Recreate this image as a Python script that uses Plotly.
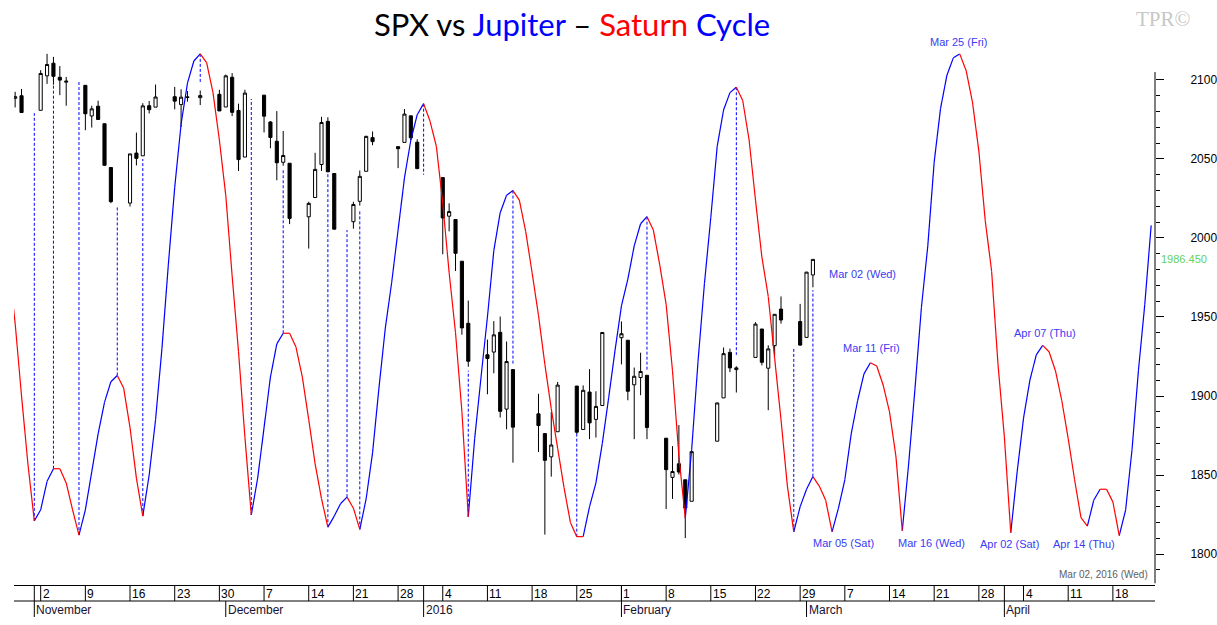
import plotly.graph_objects as go
import pandas as pd

# ---------------- data ----------------
candle_dates = [
    "2015-10-29", "2015-10-30",
    "2015-11-02", "2015-11-03", "2015-11-04", "2015-11-05", "2015-11-06",
    "2015-11-09", "2015-11-10", "2015-11-11", "2015-11-12", "2015-11-13",
    "2015-11-16", "2015-11-17", "2015-11-18", "2015-11-19", "2015-11-20",
    "2015-11-23", "2015-11-24", "2015-11-25", "2015-11-27",
    "2015-11-30", "2015-12-01", "2015-12-02", "2015-12-03", "2015-12-04",
    "2015-12-07", "2015-12-08", "2015-12-09", "2015-12-10", "2015-12-11",
    "2015-12-14", "2015-12-15", "2015-12-16", "2015-12-17", "2015-12-18",
    "2015-12-21", "2015-12-22", "2015-12-23", "2015-12-24",
    "2015-12-28", "2015-12-29", "2015-12-30", "2015-12-31",
    "2016-01-04", "2016-01-05", "2016-01-06", "2016-01-07", "2016-01-08",
    "2016-01-11", "2016-01-12", "2016-01-13", "2016-01-14", "2016-01-15",
    "2016-01-19", "2016-01-20", "2016-01-21", "2016-01-22",
    "2016-01-25", "2016-01-26", "2016-01-27", "2016-01-28", "2016-01-29",
    "2016-02-01", "2016-02-02", "2016-02-03", "2016-02-04", "2016-02-05",
    "2016-02-08", "2016-02-09", "2016-02-10", "2016-02-11", "2016-02-12",
    "2016-02-16", "2016-02-17", "2016-02-18", "2016-02-19",
    "2016-02-22", "2016-02-23", "2016-02-24", "2016-02-25", "2016-02-26",
    "2016-02-29", "2016-03-01", "2016-03-02",
]
spx_open = [
    2088.4, 2090.0,
    2080.8, 2102.6, 2110.6, 2101.7, 2098.6,
    2096.6, 2077.2, 2083.4, 2072.3, 2044.6,
    2022.1, 2053.7, 2052.0, 2083.7, 2082.8,
    2089.4, 2084.4, 2089.3, 2088.8,
    2090.9, 2082.9, 2101.7, 2080.7, 2051.2,
    2090.4, 2073.4, 2061.2, 2047.9, 2047.3,
    2013.4, 2025.6, 2046.5, 2073.8, 2040.8,
    2010.3, 2023.2, 2042.2, 2063.5,
    2057.8, 2060.5, 2077.3, 2060.6,
    2038.2, 2013.8, 2011.7, 1985.3, 1946.0,
    1926.1, 1927.8, 1940.3, 1891.7, 1916.7,
    1888.7, 1876.2, 1861.5, 1877.4,
    1906.3, 1878.8, 1902.5, 1885.2, 1894.0,
    1936.9, 1935.3, 1907.1, 1911.7, 1913.1,
    1873.3, 1848.5, 1857.1, 1847.0, 1833.4,
    1871.4, 1898.8, 1927.6, 1916.7,
    1924.4, 1942.4, 1917.6, 1931.9, 1955.0,
    1947.1, 1937.1, 1976.6,
]
spx_high = [
    2092.5, 2094.3,
    2106.2, 2116.5, 2114.6, 2108.8, 2101.9,
    2096.6, 2083.7, 2086.9, 2072.3, 2044.6,
    2053.2, 2066.7, 2085.3, 2086.7, 2097.1,
    2095.6, 2094.1, 2093.0, 2093.3,
    2093.8, 2103.4, 2104.3, 2085.0, 2093.8,
    2090.4, 2073.9, 2080.3, 2067.7, 2047.3,
    2022.9, 2053.9, 2076.7, 2076.4, 2040.8,
    2022.9, 2042.7, 2064.7, 2067.4,
    2057.8, 2081.6, 2077.3, 2062.5,
    2038.2, 2021.9, 2011.7, 1985.3, 1960.4,
    1935.7, 1947.4, 1950.3, 1934.5, 1916.7,
    1901.4, 1876.2, 1889.9, 1908.9,
    1906.3, 1906.7, 1917.0, 1903.0, 1940.2,
    1947.2, 1935.3, 1918.0, 1927.4, 1913.1,
    1873.3, 1868.3, 1881.6, 1847.0, 1864.8,
    1895.8, 1930.7, 1930.0, 1918.8,
    1946.7, 1942.4, 1932.1, 1951.8, 1963.0,
    1958.3, 1978.4, 1986.5,
]
spx_low = [
    2082.6, 2079.3,
    2080.8, 2097.5, 2097.0, 2090.4, 2083.7,
    2068.2, 2069.9, 2074.9, 2045.7, 2022.0,
    2019.9, 2045.9, 2052.0, 2078.8, 2082.8,
    2081.4, 2070.3, 2086.3, 2084.1,
    2080.4, 2082.9, 2077.1, 2042.4, 2051.2,
    2066.8, 2056.8, 2036.5, 2045.7, 2008.8,
    1993.3, 2025.6, 2042.4, 2041.7, 2005.3,
    2005.9, 2020.5, 2042.2, 2058.7,
    2044.2, 2060.5, 2062.0, 2043.6,
    1989.7, 2004.2, 1979.1, 1938.8, 1918.5,
    1901.1, 1914.4, 1886.4, 1878.9, 1857.8,
    1864.6, 1812.3, 1849.0, 1877.4,
    1876.0, 1878.8, 1872.7, 1873.7, 1894.0,
    1920.0, 1897.3, 1872.7, 1900.5, 1872.7,
    1828.5, 1834.9, 1850.3, 1810.1, 1833.4,
    1871.4, 1898.8, 1915.1, 1902.2,
    1924.4, 1919.4, 1891.0, 1925.4, 1945.8,
    1931.8, 1937.1, 1968.8,
]
spx_close = [
    2089.4, 2079.4,
    2104.1, 2109.8, 2102.3, 2099.9, 2099.2,
    2078.6, 2081.7, 2075.0, 2046.0, 2023.0,
    2053.2, 2050.4, 2083.6, 2081.2, 2089.2,
    2086.6, 2089.1, 2088.9, 2090.1,
    2080.4, 2102.6, 2079.5, 2049.6, 2091.7,
    2077.1, 2063.6, 2047.6, 2052.2, 2012.4,
    2021.9, 2043.4, 2073.1, 2041.9, 2005.6,
    2021.2, 2039.0, 2064.3, 2061.0,
    2056.5, 2078.4, 2063.4, 2043.9,
    2012.7, 2016.7, 1990.3, 1943.1, 1922.0,
    1923.7, 1938.7, 1890.3, 1921.8, 1880.3,
    1881.3, 1859.3, 1869.0, 1906.9,
    1877.1, 1903.6, 1883.0, 1893.4, 1940.2,
    1939.4, 1903.0, 1912.5, 1915.5, 1880.1,
    1853.4, 1852.2, 1851.9, 1829.1, 1864.8,
    1895.6, 1926.8, 1917.8, 1917.8,
    1945.5, 1921.3, 1929.8, 1951.7, 1948.1,
    1932.2, 1978.4, 1986.45,
]

# Jupiter-Saturn cycle, one value per calendar day starting 2015-10-28
cycle_start = "2015-10-28"
cycle_values = [
    1983, 1946, 1900, 1857, 1821, 1828, 1846, 1854, 1854, 1845,
    1828, 1812, 1828, 1852, 1876, 1896, 1909, 1913, 1905, 1880,
    1848, 1824, 1850, 1885, 1930, 1983, 2032, 2072, 2098, 2112,
    2116.5, 2111, 2092, 2062, 2027, 1976, 1928, 1874, 1824.7, 1848,
    1880, 1912, 1933, 1939.7, 1939.7, 1931, 1912, 1885, 1857, 1835,
    1817, 1824, 1832, 1836, 1829, 1815.6, 1835, 1864, 1905, 1943,
    1972, 2005, 2038, 2062, 2078, 2085, 2074, 2058, 2022, 1978,
    1940, 1890, 1823.6, 1873, 1912, 1950, 1992, 2016, 2027, 2030,
    2024, 2004, 1978, 1951, 1920, 1892, 1867, 1842, 1820, 1811,
    1811, 1830, 1845, 1870, 1899, 1929, 1957, 1974, 1995, 2009,
    2013.5, 2005, 1983, 1958, 1916, 1862, 1822.6, 1866, 1922, 1971,
    2013, 2058, 2081, 2092, 2095.4, 2087, 2062, 2024, 1988, 1963,
    1924, 1885, 1843, 1814, 1830, 1841, 1849, 1843, 1834, 1814,
    1829, 1847, 1876, 1897, 1914, 1921, 1919, 1907, 1890, 1862,
    1814.7, 1857, 1905, 1956, 1995, 2048, 2082, 2103, 2114, 2116.5,
    2106, 2086, 2055, 2011, 1979, 1920, 1874, 1813.5, 1852, 1886,
    1910, 1926, 1932, 1928, 1916, 1897, 1873, 1847, 1823, 1817.7,
    1834, 1841, 1841, 1833, 1811.6, 1828, 1866, 1916, 1958, 2008,
]

# turning-point markers: date and the price level the dashed line reaches
marker_dates = [
    "2015-11-01", "2015-11-04", "2015-11-08", "2015-11-14", "2015-11-18",
    "2015-11-27", "2015-12-05", "2015-12-10", "2015-12-17", "2015-12-20",
    "2015-12-22", "2016-01-01", "2016-01-08", "2016-01-15", "2016-01-25",
    "2016-02-05", "2016-02-19", "2016-02-28", "2016-03-02",
]
marker_levels = [
    2079, 2097, 2100, 2020, 2050,
    2098, 2088, 2044, 2042, 2005,
    2017, 2040, 1916, 1920, 1877,
    1916, 1926, 1930, 1967,
]

# future turning-point labels
label_dates = ["2016-03-05", "2016-03-11", "2016-03-16", "2016-03-25",
               "2016-04-02", "2016-04-07", "2016-04-14"]
label_texts = ["Mar 05 (Sat)", "Mar 11 (Fri)", "Mar 16 (Wed)", "Mar 25 (Fri)",
               "Apr 02 (Sat)", "Apr 07 (Thu)", "Apr 14 (Thu)"]

week_ticks = list(pd.date_range("2015-11-02", "2016-04-18", freq="7D"))
month_starts = ["2015-11-01", "2015-12-01", "2016-01-01", "2016-02-01",
                "2016-03-01", "2016-04-01"]
month_names = ["November", "December", "2016", "February", "March", "April"]

y_major = [1800, 1850, 1900, 1950, 2000, 2050, 2100]

# ---------------- figure ----------------
FONT = "Liberation Sans, Arial, sans-serif"
BLUE = "#0000ff"
RED = "#ff0000"
LABEL_BLUE = "#3b3bf2"

cycle_dates = pd.date_range(cycle_start, periods=len(cycle_values), freq="D")
cyc = dict(zip(cycle_dates, cycle_values))

up_x, up_y, dn_x, dn_y = [], [], [], []
for i in range(len(cycle_values) - 1):
    a, b = cycle_values[i], cycle_values[i + 1]
    if b > a:
        up_x += [cycle_dates[i], cycle_dates[i + 1], None]
        up_y += [a, b, None]
    else:
        dn_x += [cycle_dates[i], cycle_dates[i + 1], None]
        dn_y += [a, b, None]

fig = go.Figure()

fig.add_trace(go.Candlestick(
    x=candle_dates, open=spx_open, high=spx_high, low=spx_low, close=spx_close,
    increasing=dict(line=dict(color="black", width=1), fillcolor="white"),
    decreasing=dict(line=dict(color="black", width=1), fillcolor="black"),
    whiskerwidth=0, showlegend=False, hoverinfo="skip",
))

mx, my = [], []
for d, lvl in zip(marker_dates, marker_levels):
    ts = pd.Timestamp(d)
    mx += [ts, ts, None]
    my += [cyc[ts], lvl, None]
fig.add_trace(go.Scatter(x=mx, y=my, mode="lines",
                         line=dict(color=BLUE, width=1, dash="3px,2px"),
                         showlegend=False, hoverinfo="skip"))

fig.add_trace(go.Scatter(x=up_x, y=up_y, mode="lines",
                         line=dict(color=BLUE, width=1.2),
                         showlegend=False, hoverinfo="skip"))
fig.add_trace(go.Scatter(x=dn_x, y=dn_y, mode="lines",
                         line=dict(color=RED, width=1.2),
                         showlegend=False, hoverinfo="skip"))

PLOT_H = 585.0


def py(px):
    return (PLOT_H - px) / PLOT_H


shapes = []
annotations = []

# y axis line
shapes.append(dict(type="line", xref="paper", yref="y", x0=1, x1=1,
                   y0=1781.5, y1=2105, line=dict(color="black", width=1)))
# x axis frame lines
for ypx in (585.5, 601):
    shapes.append(dict(type="line", xref="paper", yref="paper", x0=0, x1=1,
                       y0=py(ypx), y1=py(ypx), line=dict(color="black", width=1)))
# week ticks and day numbers
for t in week_ticks:
    shapes.append(dict(type="line", xref="x", yref="paper", x0=t, x1=t,
                       y0=py(586), y1=py(601), line=dict(color="black", width=1)))
    annotations.append(dict(x=t, y=py(593.5), xref="x", yref="paper",
                            text=str(t.day), showarrow=False, xanchor="left",
                            yanchor="middle", xshift=0,
                            font=dict(family=FONT, size=12, color="black")))
# month boundaries and names
for m, name in zip(month_starts, month_names):
    mt = pd.Timestamp(m)
    top = 601
    if not any(0 < (mt - t).days < 2 for t in week_ticks):
        top = 586
    shapes.append(dict(type="line", xref="x", yref="paper", x0=mt, x1=mt,
                       y0=py(top), y1=py(617), line=dict(color="black", width=1)))
    annotations.append(dict(x=mt, y=py(609.5), xref="x", yref="paper",
                            text=name, showarrow=False, xanchor="left",
                            yanchor="middle",
                            font=dict(family=FONT, size=12, color="#1a1030")))

# future pivot labels (pixel offsets from the pivot point)
label_offsets = [(11, -11), (1, 15), (29, -12), (-1, 12), (-1, -11), (2, 12), (-3, -18)]
for d, txt, (dx, dy) in zip(label_dates, label_texts, label_offsets):
    ts = pd.Timestamp(d)
    annotations.append(dict(x=ts, y=cyc[ts], xref="x", yref="y", text=txt,
                            showarrow=False, xanchor="center", yanchor="middle",
                            xshift=dx, yshift=dy,
                            font=dict(family=FONT, size=11, color=LABEL_BLUE)))

# last candle label
annotations.append(dict(x=pd.Timestamp(candle_dates[-1]), y=spx_close[-1],
                        xref="x", yref="y", text="Mar 02 (Wed)", showarrow=False,
                        xanchor="left", yanchor="middle", xshift=14, yshift=-15,
                        font=dict(family=FONT, size=11, color=LABEL_BLUE)))
# last price on axis
annotations.append(dict(x=1, y=spx_close[-1], xref="paper", yref="y",
                        text=f"{spx_close[-1]:.3f}", showarrow=False,
                        xanchor="left", yanchor="middle", xshift=4,
                        font=dict(family=FONT, size=11, color="#5fd35f")))
# current date note
annotations.append(dict(x=1, y=py(574), xref="paper", yref="paper",
                        text="Mar 02, 2016 (Wed)", showarrow=False,
                        xanchor="right", yanchor="middle", xshift=-5,
                        font=dict(family=FONT, size=10, color="#606060")))
# title
annotations.append(dict(
    x=(572.5 - 14) / 1143, y=py(24), xref="paper", yref="paper",
    text=("SPX vs <span style='color:#0000ff'>Jupiter</span> \u2013 "
          "<span style='color:#ff0000'>Saturn</span> "
          "<span style='color:#0000ff'>Cycle</span>"),
    showarrow=False, xanchor="center", yanchor="middle",
    font=dict(family="Lato, Open Sans, sans-serif", size=31, color="black")))
# watermark
annotations.append(dict(x=(1166 - 14) / 1143, y=py(19), xref="paper", yref="paper",
                        text="TPR\u00a9", showarrow=False, xanchor="center",
                        yanchor="middle",
                        font=dict(family="Liberation Serif, serif", size=21,
                                  color="#c8c8c8")))

minor_vals = [v for v in range(1790, 2100, 10) if v % 50 != 0]

fig.update_layout(
    width=1217, height=625,
    margin=dict(l=14, r=60, t=0, b=40),
    paper_bgcolor="white", plot_bgcolor="white",
    showlegend=False,
    font=dict(family=FONT, size=12, color="black"),
    shapes=shapes, annotations=annotations,
    xaxis=dict(type="date", range=["2015-10-28 19:40", "2016-04-24 14:24"],
               showgrid=False, zeroline=False, showline=False,
               showticklabels=False, ticks="", rangeslider=dict(visible=False),
               fixedrange=True),
    yaxis=dict(side="right", range=[1780.4, 2150.6], tickvals=y_major,
               ticks="outside", ticklen=8, tickcolor="black", tickwidth=1,
               showgrid=False, zeroline=False, showline=False,
               ticklabelstandoff=24,
               tickfont=dict(family=FONT, size=12, color="black"),
               minor=dict(tickvals=minor_vals, ticks="outside", ticklen=4,
                          tickcolor="black", tickwidth=1, showgrid=False),
               fixedrange=True),
)

fig.write_html("out.html",
               config={"displayModeBar": False},
               post_script="document.body.style.margin='0px';"
                           "document.body.style.overflow='hidden';")
